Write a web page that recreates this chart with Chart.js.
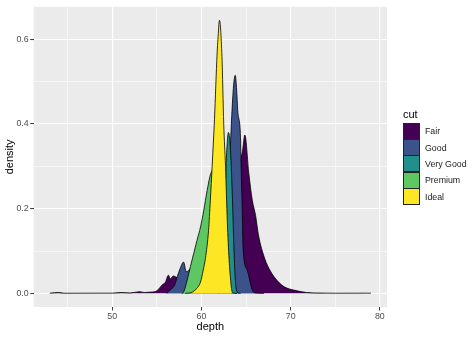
<!DOCTYPE html>
<html>
<head>
<meta charset="utf-8">
<script src="https://cdn.jsdelivr.net/npm/chart.js@4.4.1/dist/chart.umd.min.js"></script>
<style>
  body { margin: 0; background: #fff; font-family: "Liberation Sans", Arial, sans-serif; }
  #wrap { position: relative; width: 474px; height: 338px; }
  #legend { position: absolute; left: 403px; top: 107px; }
  #legend .title { font-size: 11px; color: #000; height: 15px; line-height: 15px; margin-bottom: 1px; }
  #legend .item { display: flex; align-items: center; height: 16.4px; }
  #legend .key { width: 15px; height: 15px; border: 0.8px solid #222; box-sizing: content-box; }
  #legend .lab { font-size: 8.8px; color: #1a1a1a; margin-left: 5px; }
</style>
</head>
<body>
<div id="wrap">
  <canvas id="chart"></canvas>
  <div id="legend"></div>
</div>
<script>
// ── DATA ──
const cuts = ["Fair", "Good", "Very Good", "Premium", "Ideal"];
const cutColors = ["#440154", "#3B528B", "#21908C", "#5DC863", "#FDE725"];

const xFair = [43, 44, 44.6, 50, 51, 52, 53.1, 53.6, 54.3, 54.8, 55.2, 55.6, 55.95, 56.3, 56.5, 56.85, 57.1, 57.5, 58.5, 60, 62, 63.5, 64.3, 64.6, 64.87, 65.31, 65.7, 66.07, 66.4, 67.08, 67.75, 68.54, 69.33, 70.34, 71.8, 73.4, 75, 78.5, 79];
const yFair = [0.0005, 0.002, 0.0003, 0.0005, 0.002, 0.001, 0.004, 0.002, 0.003, 0.004, 0.01, 0.02, 0.026, 0.043, 0.034, 0.041, 0.039, 0.035, 0.04, 0.06, 0.12, 0.25, 0.31, 0.335, 0.374, 0.284, 0.22, 0.184, 0.137, 0.083, 0.052, 0.029, 0.015, 0.0078, 0.002, 0.0007, 0.0003, 0.0005, 0.0005];

const xGood = [56.1, 56.6, 57.0, 57.3, 57.6, 58.0, 58.3, 58.6, 59.5, 60.5, 61.5, 62.5, 63.0, 63.2, 63.4, 63.6, 63.79, 63.95, 64.07, 64.38, 64.46, 64.55, 64.69, 65.13, 65.7, 66.07, 67];
const yGood = [0, 0.01, 0.02, 0.04, 0.058, 0.074, 0.051, 0.055, 0.08, 0.1, 0.15, 0.25, 0.28, 0.33, 0.42, 0.49, 0.515, 0.48, 0.432, 0.368, 0.29, 0.22, 0.10, 0.055, 0.008, 0.001, 0];

const xVeryGood = [61.9, 62.1, 62.36, 62.6, 62.8, 63.03, 63.26, 63.48, 63.65, 63.8, 64.0, 64.4];
const yVeryGood = [0, 0.02, 0.10, 0.20, 0.321, 0.380, 0.337, 0.22, 0.102, 0.031, 0.003, 0];

const xPremium = [57.8, 58.0, 58.4, 58.76, 59.13, 59.5, 59.9, 60.26, 60.64, 61.0, 61.2, 61.4, 61.8, 62.3, 62.8, 63.2, 63.4];
const yPremium = [0, 0.003, 0.031, 0.063, 0.094, 0.125, 0.157, 0.196, 0.243, 0.28, 0.29, 0.30, 0.29, 0.2, 0.08, 0.01, 0];

const xIdeal = [58.2, 59.0, 59.4, 59.9, 60.2, 60.45, 60.8, 61.0, 61.2, 61.46, 61.76, 61.85, 62.02, 62.3, 62.5, 62.7, 62.9, 63.1, 63.3, 63.4, 63.5, 64];
const yIdeal = [0, 0.003, 0.01, 0.027, 0.055, 0.083, 0.149, 0.22, 0.30, 0.41, 0.568, 0.60, 0.645, 0.56, 0.40, 0.30, 0.17, 0.08, 0.025, 0.008, 0.001, 0];

const xMajor = [50, 60, 70, 80];
const xMinor = [45, 55, 65, 75];
const yMajor = [0, 0.2, 0.4, 0.6];
const yMinor = [0.1, 0.3, 0.5];
const yLabels = ["0.0", "0.2", "0.4", "0.6"];

const seriesX = [xFair, xGood, xVeryGood, xPremium, xIdeal];
const seriesY = [yFair, yGood, yVeryGood, yPremium, yIdeal];

// ── CHART ──
const isMajor = (list, v) => list.some(m => Math.abs(m - v) < 1e-9);

const datasets = cuts.map((name, i) => ({
    label: name,
    data: seriesX[i].map((x, j) => ({ x: x, y: seriesY[i][j] })),
    backgroundColor: cutColors[i],
    borderColor: "#000",
    borderWidth: 0.8,
    fill: "origin",
    showLine: true,
    pointRadius: 0,
    cubicInterpolationMode: "monotone",
    order: cuts.length - i   // Fair drawn first, Ideal on top
}));

const panelBg = {
    id: "panelBg",
    beforeDraw(chart) {
        const { ctx, chartArea: a } = chart;
        ctx.save();
        ctx.fillStyle = "#EBEBEB";
        ctx.fillRect(a.left, a.top, a.right - a.left, a.bottom - a.top);
        ctx.restore();
    }
};

new Chart(document.getElementById("chart"), {
    type: "scatter",
    data: { datasets: datasets },
    plugins: [panelBg],
    options: {
        responsive: true,
        maintainAspectRatio: false,
        animation: false,
        layout: { padding: { top: 6, right: 87, left: 0, bottom: 0 } },
        plugins: {
            legend: { display: false },
            tooltip: { enabled: false }
        },
        scales: {
            x: {
                type: "linear",
                min: 41.2,
                max: 80.8,
                afterBuildTicks: s => { s.ticks = xMajor.concat(xMinor).sort((a, b) => a - b).map(v => ({ value: v })); },
                afterFit: s => { s.height = 31; },
                border: { display: false },
                grid: {
                    color: "#fff",
                    lineWidth: c => isMajor(xMajor, c.tick.value) ? 1.1 : 0.55,
                    tickColor: c => isMajor(xMajor, c.tick.value) ? "#333" : "rgba(0,0,0,0)",
                    tickWidth: 1,
                    tickLength: 3.5
                },
                ticks: {
                    autoSkip: false,
                    maxRotation: 0,
                    padding: 1,
                    color: "#4D4D4D",
                    font: { family: "Liberation Sans", size: 8.8 },
                    callback: v => isMajor(xMajor, v) ? String(v) : ""
                },
                title: {
                    display: true,
                    text: "depth",
                    color: "#000",
                    font: { family: "Liberation Sans", size: 11 },
                    padding: { top: 0, bottom: 4.4 }
                }
            },
            y: {
                type: "linear",
                min: -0.0322,
                max: 0.677,
                afterBuildTicks: s => { s.ticks = yMajor.concat(yMinor).sort((a, b) => a - b).map(v => ({ value: v })); },
                afterFit: s => { s.width = 33.7; },
                border: { display: false },
                grid: {
                    color: "#fff",
                    lineWidth: c => isMajor(yMajor, c.tick.value) ? 1.1 : 0.55,
                    tickColor: c => isMajor(yMajor, c.tick.value) ? "#333" : "rgba(0,0,0,0)",
                    tickWidth: 1,
                    tickLength: 3.5
                },
                ticks: {
                    autoSkip: false,
                    padding: 1.5,
                    color: "#4D4D4D",
                    font: { family: "Liberation Sans", size: 8.8 },
                    callback: v => {
                        const k = yMajor.findIndex(m => Math.abs(m - v) < 1e-9);
                        return k >= 0 ? yLabels[k] : "";
                    }
                },
                title: {
                    display: true,
                    text: "density",
                    color: "#000",
                    font: { family: "Liberation Sans", size: 11 },
                    padding: { top: 3.4, bottom: 0 }
                }
            }
        }
    }
});

// ── LEGEND ──
const legend = document.getElementById("legend");
legend.innerHTML = `<div class="title">cut</div>` + cuts.map((name, i) => `
    <div class="item">
        <div class="key" style="background:${cutColors[i]}"></div>
        <div class="lab">${name}</div>
    </div>`).join("");
</script>
</body>
</html>
